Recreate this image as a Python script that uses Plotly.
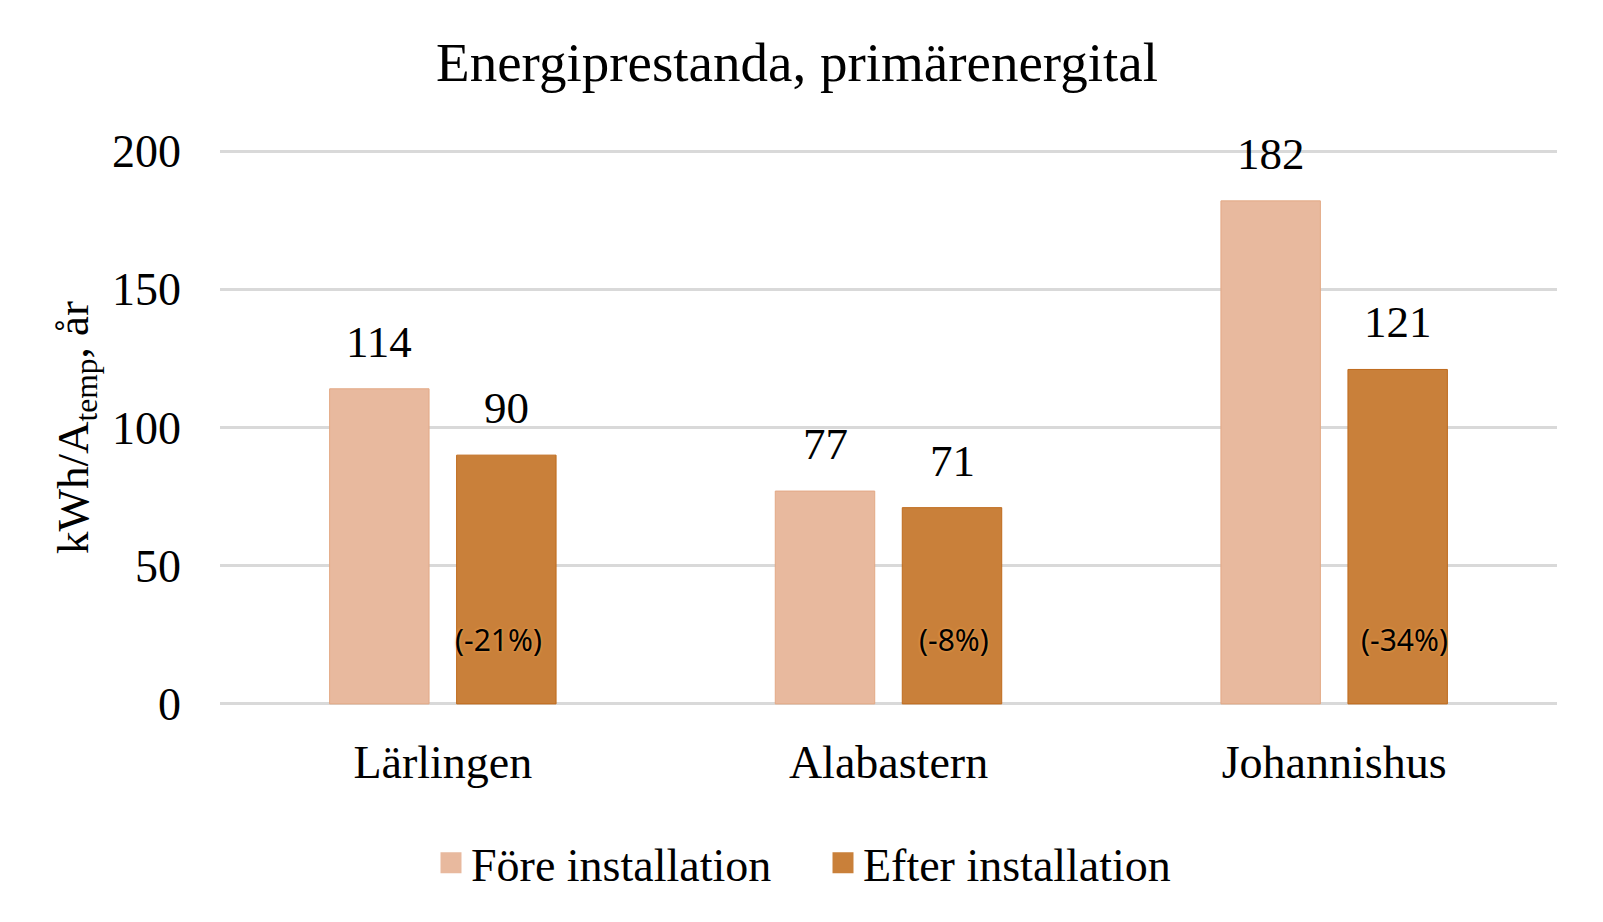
import plotly.graph_objects as go

categories = ["Lärlingen", "Alabastern", "Johannishus"]
fore_values = [114, 77, 182]
efter_values = [90, 71, 121]
change_labels = ["(-21%)", "(-8%)", "(-34%)"]
series_names = ["Före installation", "Efter installation"]
y_ticks = [0, 50, 100, 150, 200]

SERIF = "Liberation Serif, Times New Roman, serif"
SANS = "Noto Sans, Open Sans, sans-serif"
FORE_COLOR = "#E8B99E"
FORE_LINE = "#E3A985"
EFTER_COLOR = "#C9803A"
EFTER_LINE = "#BF6A1C"

fig = go.Figure()
fig.add_bar(name=series_names[0], x=categories, y=fore_values, legendgroup="f",
            showlegend=False,
            marker=dict(color=FORE_COLOR, line=dict(color=FORE_LINE, width=1)))
fig.add_bar(name=series_names[1], x=categories, y=efter_values, legendgroup="e",
            showlegend=False,
            marker=dict(color=EFTER_COLOR, line=dict(color=EFTER_LINE, width=1)))
# legend entries (larger square keys)
fig.add_scatter(name=series_names[0], x=[categories[0]], y=[None], mode="markers",
                legendgroup="f", hoverinfo="skip",
                marker=dict(symbol="square", size=16, color=FORE_COLOR,
                            line=dict(color=FORE_COLOR, width=5)))
fig.add_scatter(name=series_names[1], x=[categories[0]], y=[None], mode="markers",
                legendgroup="e", hoverinfo="skip",
                marker=dict(symbol="square", size=16, color=EFTER_COLOR,
                            line=dict(color=EFTER_COLOR, width=5)))

OFF = 63.5  # px offset of bar centres from category centre
label_nudge = [-8, 2, 7]
for cat, v in zip(categories, fore_values):
    fig.add_annotation(x=cat, y=v, xref="x", yref="y", text=str(v), showarrow=False,
                       xshift=-OFF, yshift=20, yanchor="bottom",
                       font=dict(family=SERIF, size=45, color="#000000"))
for cat, v in zip(categories, efter_values):
    fig.add_annotation(x=cat, y=v, xref="x", yref="y", text=str(v), showarrow=False,
                       xshift=OFF, yshift=20, yanchor="bottom",
                       font=dict(family=SERIF, size=45, color="#000000"))
for cat, t, n in zip(categories, change_labels, label_nudge):
    fig.add_annotation(x=cat, y=23.4, xref="x", yref="y", text=t, showarrow=False,
                       xshift=OFF + n, yanchor="middle",
                       font=dict(family=SANS, size=30, color="#000000",
                                 shadow="0px 0px 3px #F7A850"))

fig.update_layout(
    width=1603, height=922,
    paper_bgcolor="white", plot_bgcolor="white",
    margin=dict(l=220, r=46, t=150, b=217, autoexpand=False),
    barmode="group", bargap=0.43, bargroupgap=0.217,
    font=dict(family=SERIF, color="#000000"),
    title=dict(text="Energiprestanda, primärenergital", x=797 / 1603, xanchor="center",
               xref="container", yref="container", y=1 - 62 / 922, yanchor="middle",
               font=dict(family=SERIF, size=55, color="#000000")),
    legend=dict(orientation="h", x=(431 - 220) / 1337, xanchor="left", y=-0.2846,
                yanchor="middle", entrywidth=347, entrywidthmode="pixels",
                font=dict(family=SERIF, size=46, color="#000000"),
                bgcolor="rgba(0,0,0,0)"),
    showlegend=True,
)
fig.update_yaxes(range=[-0.4, 200.4], tickvals=y_ticks, showgrid=True, gridcolor="#D9D9D9",
                 gridwidth=2.5, zeroline=False, showline=False, ticks="",
                 tickfont=dict(family=SERIF, size=46, color="#000000"),
                 ticklabelstandoff=38,
                 title=dict(text="kWh/A<sub>temp</sub>, år", standoff=9,
                            font=dict(family=SERIF, size=45, color="#000000")))
fig.update_xaxes(showgrid=False, zeroline=False, showline=False, ticks="",
                 tickfont=dict(family=SERIF, size=46, color="#000000"),
                 ticklabelstandoff=26)

fig.write_html("out.html")
